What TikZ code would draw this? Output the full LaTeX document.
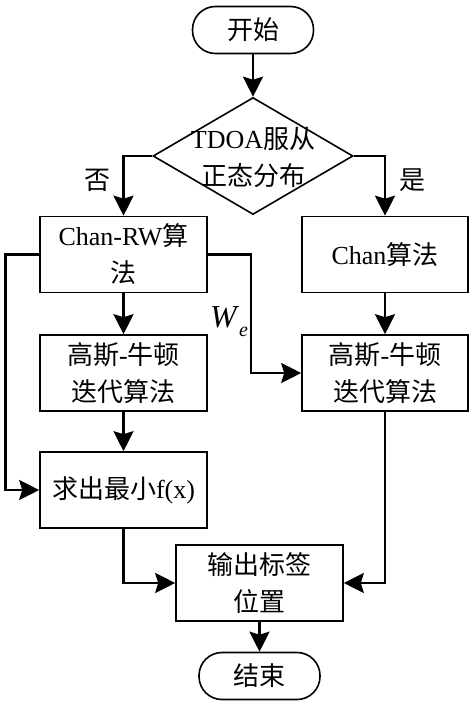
\documentclass[tikz,border=0pt]{standalone}
\usepackage{fontspec}
\setmainfont{Liberation Serif}
\newfontfamily\cjk{Noto Sans CJK SC}
\usetikzlibrary{arrows.meta,shapes.geometric}
\newcommand{\zh}[1]{{\cjk #1}}
\tikzset{
	boks/.style={draw,line width=1.6pt,minimum width=167pt,minimum height=76pt,align=center,inner sep=2pt},
	terminal/.style={draw,line width=1.6pt,rounded corners=23pt,minimum width=121pt,minimum height=47pt},
	pil/.style={line width=2.6pt,-{Stealth[length=20pt,width=20pt,inset=3pt]}},
}
\begin{document}
\begin{tikzpicture}[x=1pt,y=-1pt,font=\fontsize{26}{37}\selectfont]
		\useasboundingbox (0,0) rectangle (474,708);
		% Start og beslutning
		\node[terminal] (start) at (253,30) {\zh{开始}};
		\node[draw,diamond,line width=1.6pt,minimum width=200pt,minimum height=117pt,inner sep=0pt] (dec) at (253,156) {};
		\node[align=center] (dectxt) at (253,157) {TDOA\zh{服从}\\\zh{正态分布}};
		% Venstre gren
		\node[boks] (crw) at (123.5,254.5) {Chan-RW\zh{算}\\\zh{法}};
		\node[boks] (gl) at (123.5,373) {\zh{高斯}-\zh{牛顿}\\\zh{迭代算法}};
		\node[boks] (minf) at (123.5,490) {\zh{求出最小}f(x)};
		% Hoyre gren
		\node[boks,minimum width=166pt] (chan) at (385,254.5) {Chan\zh{算法}};
		\node[boks,minimum width=166pt] (gr) at (385,373) {\zh{高斯}-\zh{牛顿}\\\zh{迭代算法}};
		% Utdata og slutt
		\node[boks] (out) at (259.5,583) {\zh{输出标签}\\\zh{位置}};
		\node[terminal] (end) at (259.5,676) {\zh{结束}};
		% Etiketter
		\node (nei) at (97,180) {\zh{否}};
		\node (ja) at (412,180) {\zh{是}};
		\node (we) at (229,322) {\fontsize{32}{32}\selectfont\textit{W}\raisebox{-9pt}{\fontsize{20}{20}\selectfont\textit{e}}};
		% Piler
		\draw[pil] (start) -- (dec);
		\draw[pil] (dec.west) -| (crw.north);
		\draw[pil] (dec.east) -| (chan.north);
		\draw[pil] (crw) -- (gl);
		\draw[pil] (gl) -- (minf);
		\draw[pil] (chan) -- (gr);
		\draw[pil] (crw.west) -- ++(-34,0) |- (minf.west);
		\draw[pil] (crw.east) -- ++(43,0) |- (gr.west);
		\draw[pil] (minf.south) |- (out.west);
		\draw[pil] (gr.south) |- (out.east);
		\draw[pil] (out) -- (end);
\end{tikzpicture}
\end{document}
